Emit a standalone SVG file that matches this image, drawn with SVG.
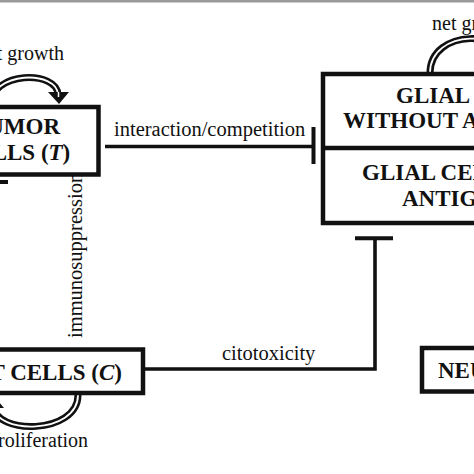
<svg xmlns="http://www.w3.org/2000/svg" width="474" height="474" viewBox="0 0 474 474">
  <style>
    .box { fill: #fff; stroke: #111; stroke-width: 4.5; }
    .bt { font-family: "Liberation Serif", "Times New Roman", serif; font-weight: bold; font-size: 23px; fill: #111; }
    .lbl { font-family: "Liberation Serif", "Times New Roman", serif; font-size: 20.5px; fill: #111; }
    .ln { fill: none; stroke: #111; stroke-width: 3.6; }
    .bar { fill: none; stroke: #111; stroke-width: 4; }
    .loopo { fill: none; stroke: #111; stroke-width: 7; }
    .loopi { fill: none; stroke: #fff; stroke-width: 1.8; }
  </style>
  <rect x="0" y="0" width="474" height="474" fill="#fff"/>
  <rect x="0" y="0" width="474" height="2.5" fill="#9a9a9a"/>

  <g id="connectors">
    <!-- interaction/competition -->
    <line class="ln" x1="105" y1="146.5" x2="313" y2="146.5"/>
    <line class="bar" x1="313.5" y1="127" x2="313.5" y2="164"/>
    <text class="lbl" x="114" y="136">interaction/competition</text>
    <!-- citotoxicity -->
    <polyline class="ln" points="143,369 375,369 375,238"/>
    <line class="bar" x1="355" y1="238.3" x2="393" y2="238.3"/>
    <text class="lbl" x="222" y="360">citotoxicity</text>
    <!-- immunosuppression -->
    <line class="bar" x1="-30" y1="182" x2="8" y2="182"/>
    <text class="lbl" transform="translate(81.5,338) rotate(-90)">immunosuppression</text>
    <!-- tumor net growth loop -->
    <path class="loopo" d="M -10,107 C -10,70 58,70 58,95"/>
    <path class="loopi" d="M -10,107 C -10,70 58,70 58,95"/>
    <polygon points="48,92 69,92 59,104" fill="#111"/>
    <line x1="58.5" y1="92" x2="58.5" y2="97" stroke="#fff" stroke-width="1.5"/>
    <text class="lbl" x="64" y="59.5" text-anchor="end" style="font-size:20px">net growth</text>
    <!-- glial net growth loop -->
    <path class="loopo" d="M 430,73 C 430,28 510,28 510,68"/>
    <path class="loopi" d="M 430,73 C 430,28 510,28 510,68"/>
    <text class="lbl" x="432" y="30" style="font-size:20px">net growth</text>
    <!-- effector proliferation loop -->
    <path class="loopo" d="M 78,395 C 78,435 -6,435 -6,406"/>
    <path class="loopi" d="M 78,395 C 78,435 -6,435 -6,406"/>
    <polygon points="-16,408 4,408 -6,396" fill="#111"/>
    <text class="lbl" x="88" y="447" text-anchor="end" style="font-size:20px">proliferation</text>
  </g>

  <g id="tumor">
    <rect class="box" x="-40" y="107" width="138.5" height="67.5"/>
    <text class="bt" x="16" y="134" text-anchor="middle">TUMOR</text>
    <text class="bt" x="15" y="160" text-anchor="middle">CELLS (<tspan font-style="italic">T</tspan>)</text>
  </g>

  <g id="glial">
    <rect class="box" x="323" y="74" width="200" height="149"/>
    <line class="box" x1="323" y1="148" x2="523" y2="148"/>
    <text class="bt" x="396" y="102.5">GLIAL CELLS</text>
    <text class="bt" x="343" y="128">WITHOUT ANTIGEN</text>
    <text class="bt" x="362" y="180">GLIAL CELLS WITH</text>
    <text class="bt" x="402" y="206">ANTIGEN</text>
  </g>

  <g id="effector">
    <rect class="box" x="-60" y="349.5" width="203" height="43.5"/>
    <text class="bt" x="122" y="380" text-anchor="end">CYTOTOXIC T CELLS (<tspan font-style="italic">C</tspan>)</text>
  </g>

  <g id="neuron">
    <rect class="box" x="422" y="348" width="100" height="43.5"/>
    <text class="bt" x="438" y="378">NEURONS (N)</text>
  </g>
</svg>
